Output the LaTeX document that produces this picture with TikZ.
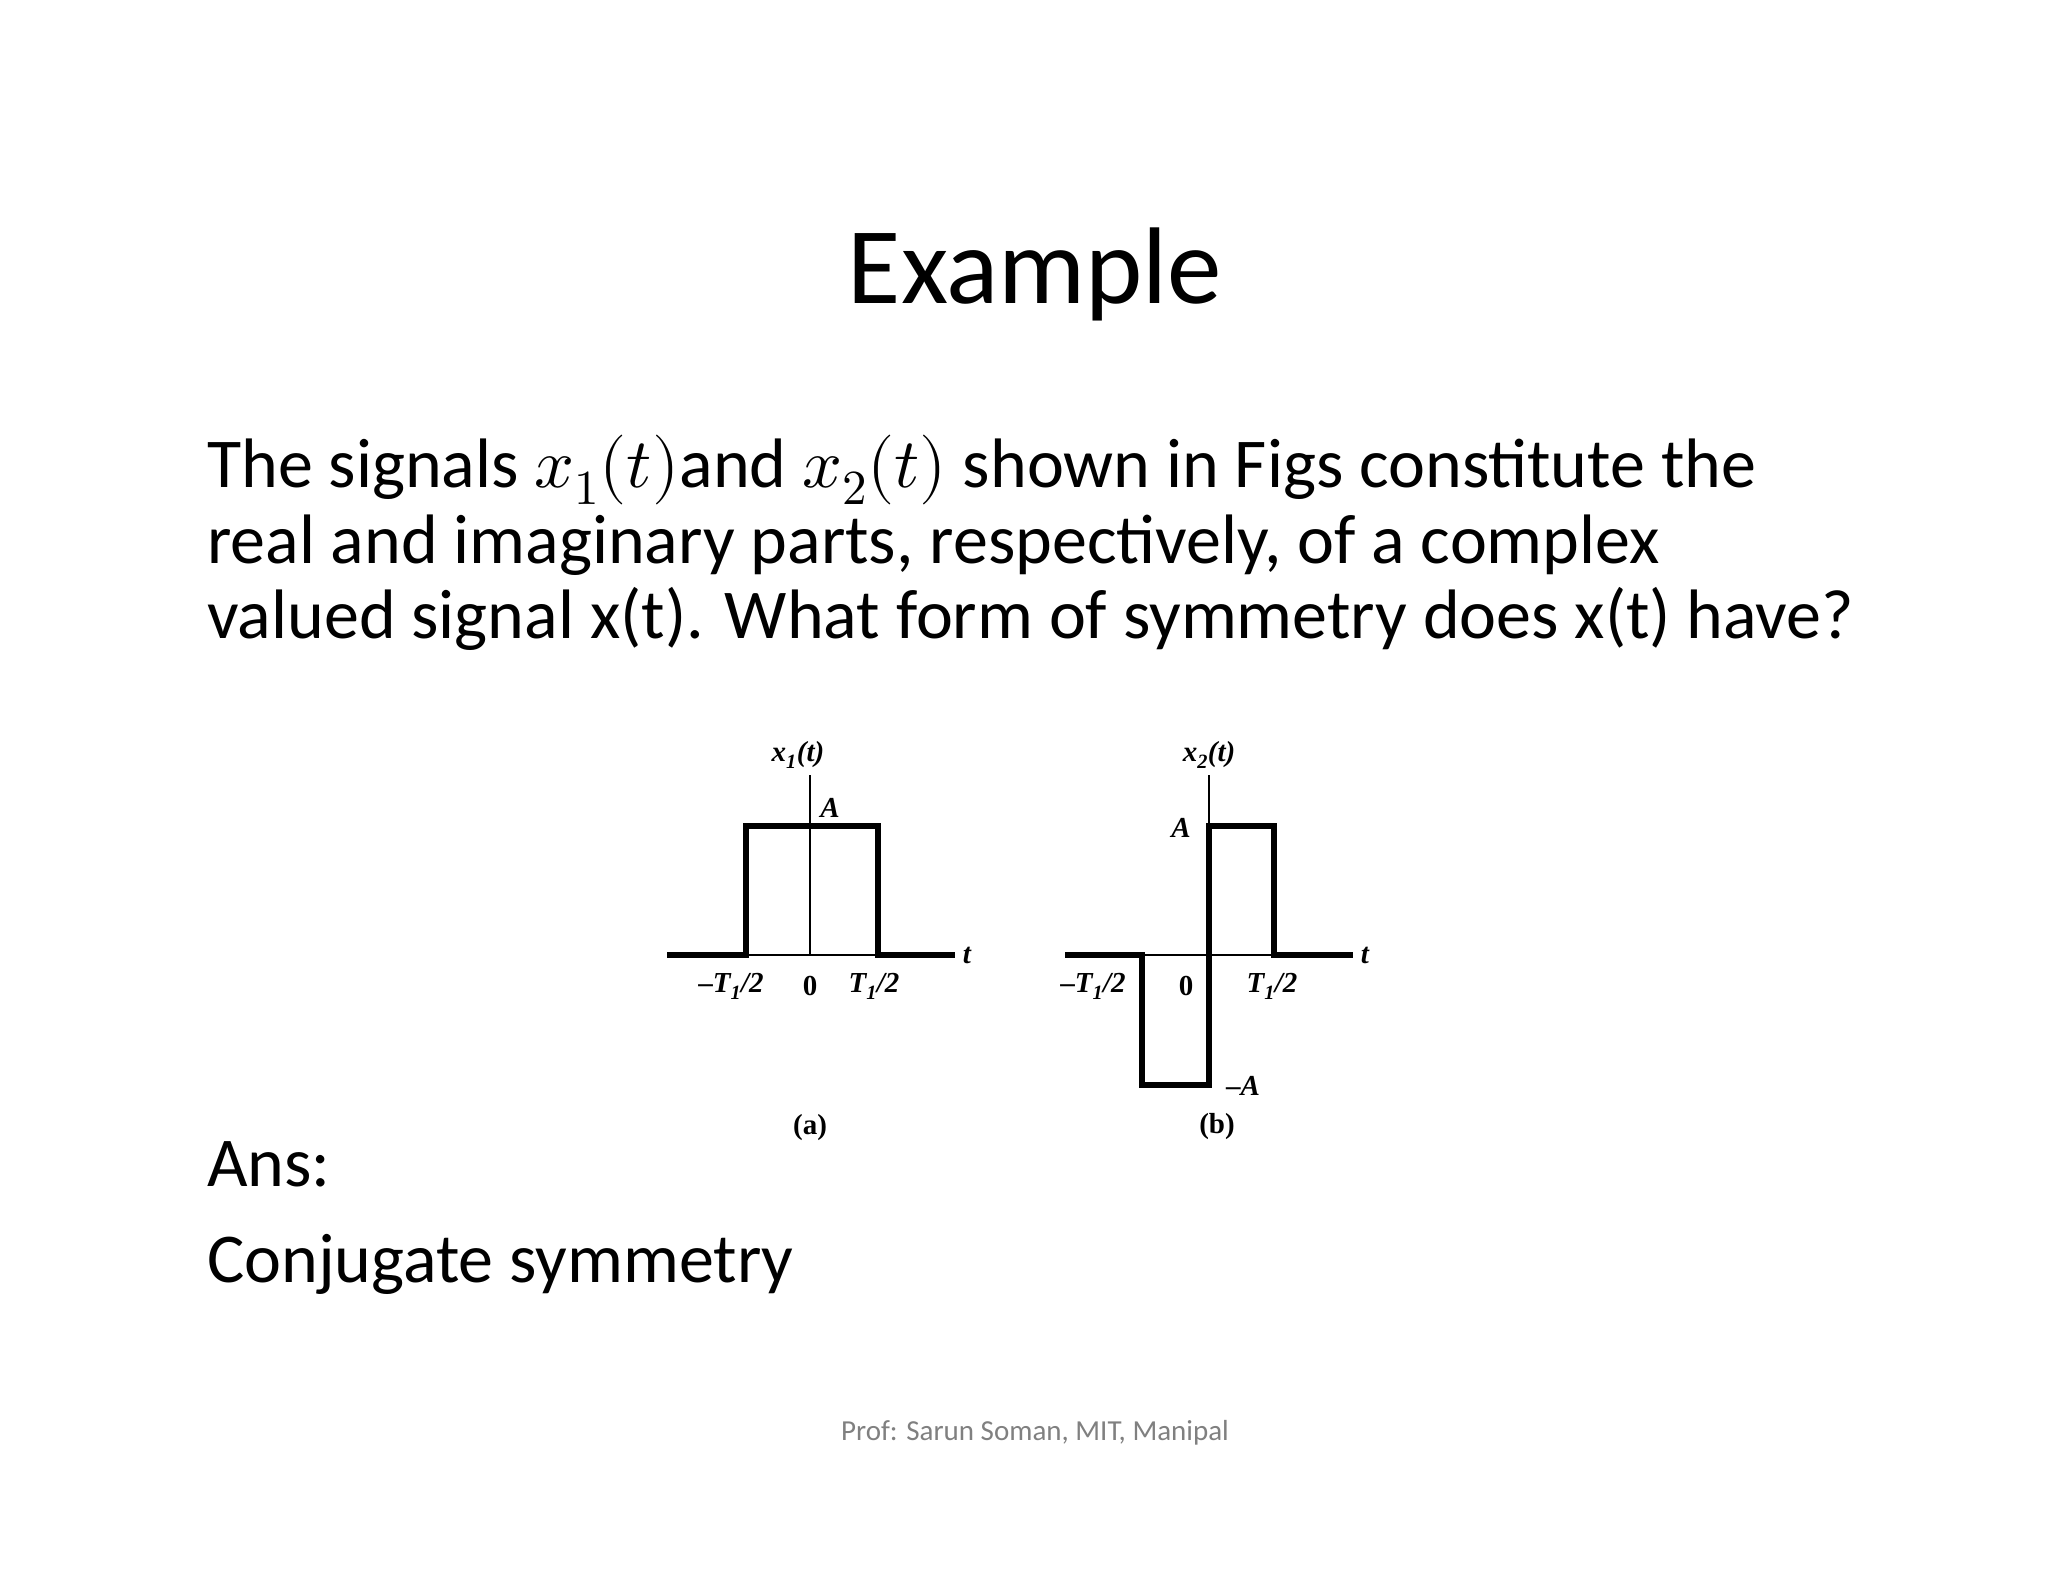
\documentclass[tikz,border=0pt]{standalone}
\usepackage{unicode-math}
\setmainfont{Carlito}
\setmathfont{Latin Modern Math}
\newfontfamily\figfont{Liberation Serif}
\begin{document}
\begin{tikzpicture}[x=1pt,y=-1pt,
  body/.style={anchor=base west,inner sep=0pt,font=\fontsize{70}{80}\selectfont},
  lab/.style={inner sep=0pt,font=\figfont\bfseries\itshape\fontsize{29}{32}\selectfont},
  thk/.style={line width=6pt},
  thn/.style={line width=1.6pt}]
\useasboundingbox[fill=white] (0,0) rectangle (2048,1582);
\node[anchor=base,inner sep=0pt,font=\fontsize{109}{120}\selectfont] (title) at (1035,303) {Example};
\node[body] (l1) at (207,487) {The signals $x_1(t)$and $x_2(t)$ shown in Figs constitute the};
\node[body] (l2) at (207,563) {real and imaginary parts, respectively, of a complex};
\node[body] (l3) at (207,638) {valued signal x(t). What form of symmetry does x(t) have?};
\node[body] (ans) at (207,1186) {Ans:};
\node[body] (conj) at (207,1282) {Conjugate symmetry};
\node[anchor=base,inner sep=0pt,text=gray,font=\fontsize{29}{32}\selectfont] (foot) at (1035,1440) {Prof: Sarun Soman, MIT, Manipal};
% figure (a)
\draw[thn] (810,775) -- (810,955);
\draw[thn] (746,955) -- (878,955);
\draw[thk] (667,955) -- (746,955) -- (746,826) -- (878,826) -- (878,955) -- (955,955);
\node[lab] (ax1) at (798,755) {x\textsubscript{1}(t)};
\node[lab] (aA) at (830,808) {A};
\node[lab] (at) at (967,955) {t};
\node[lab] (am) at (731,986) {\upshape –\itshape T\textsubscript{1}/2};
\node[lab] (a0) at (810,986) {\upshape 0};
\node[lab] (ap) at (874,986) {T\textsubscript{1}/2};
\node[lab] (acap) at (810,1128) {\upshape (a)};
% figure (b)
\draw[thn] (1209,775) -- (1209,955);
\draw[thn] (1142,955) -- (1274,955);
\draw[thk] (1065,955) -- (1142,955) -- (1142,1085) -- (1209,1085) -- (1209,826) -- (1274,826) -- (1274,955) -- (1353,955);
\node[lab] (bx2) at (1209,755) {x\textsubscript{2}(t)};
\node[lab] (bA) at (1181,828) {A};
\node[lab] (bmA) at (1243,1086) {\upshape –\itshape A};
\node[lab] (bt) at (1365,955) {t};
\node[lab] (bm) at (1093,986) {\upshape –\itshape T\textsubscript{1}/2};
\node[lab] (b0) at (1186,986) {\upshape 0};
\node[lab] (bp) at (1272,986) {T\textsubscript{1}/2};
\node[lab] (bcap) at (1217,1127) {\upshape (b)};
\end{tikzpicture}
\end{document}
